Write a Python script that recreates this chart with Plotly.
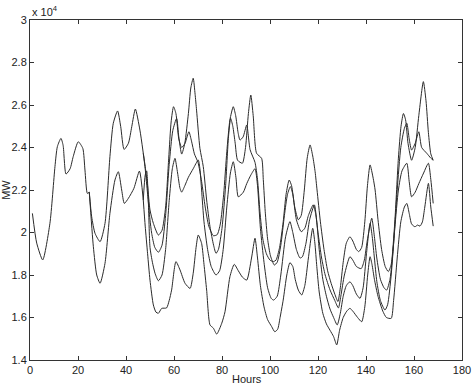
import plotly.graph_objects as go

# Load in MW x 10^4, hours on x
# Stage 1 (common to all scenarios)
s1_x = [1, 2.8, 5.3, 8.3, 10.4, 11.4, 12.9, 13.8, 15, 16.7, 18, 20.1, 22, 22.9, 23.9, 24.7]
s1_y = [2.09, 1.95, 1.871, 2.043, 2.31, 2.404, 2.443, 2.41, 2.275, 2.30, 2.357, 2.427, 2.396, 2.294, 2.184, 2.19]

# Stage 2 branches
hi_x = [25.7, 27.1, 29.2, 31.25, 33.3, 34.7, 36.5, 37.8, 39.2, 41, 42.4, 43.9, 45.8, 47.2]
hi_y = [2.074, 1.996, 1.957, 2.043, 2.357, 2.514, 2.572, 2.498, 2.391, 2.42, 2.498, 2.581, 2.482, 2.373]
lo_x = [26.4, 27.8, 29.2, 31.25, 33.3, 35.4, 36.8, 38.2, 39.3, 41, 43.3, 45.6, 47.2]
lo_y = [1.933, 1.80, 1.761, 1.855, 2.09, 2.247, 2.286, 2.20, 2.137, 2.161, 2.208, 2.289, 2.153]

# Stage 3 branches
l1_x = [48, 49, 50, 51.4, 53.5, 55, 56.5, 57.8, 58.8, 59.8, 60.8, 62, 63.2, 64.6, 66.2, 67.3, 68.5, 70, 71.5, 73, 74.5, 76.4, 78,
        79.3, 80.7, 82, 83.3, 84.7, 85.7, 86.7, 87.5, 88.8, 90.3, 91.7, 93.75, 94.8, 95.8, 97, 98.5, 100, 101.4,
        102.5, 104, 105.5, 106.7, 108, 109, 110.3, 111.8, 113, 114.3, 115.5, 116.7, 117.8, 118.8, 119.6, 121, 122.5, 124, 125.5, 127, 128.3,
        129.3, 130.5, 131.8, 133.3, 134.5, 136, 137, 138.2, 139.5, 140.6, 141.7, 143, 143.8, 145, 146.5, 148, 149.3,
        150.5, 152, 153.5, 154.6, 155.6, 156.5, 157.5, 159, 160.5, 162, 163.9, 165, 166, 167, 168]
l1_y = [2.31, 2.22, 2.106, 2.043, 1.988, 2.01, 2.12, 2.35, 2.52, 2.592, 2.56, 2.44, 2.40, 2.42, 2.474, 2.43, 2.37, 2.33, 2.24, 2.12, 2.03, 1.985, 1.99,
        2.04, 2.18, 2.38, 2.53, 2.592, 2.55, 2.47, 2.435, 2.45, 2.506, 2.39, 2.33, 2.25, 2.10, 1.97, 1.90, 1.87, 1.863,
        1.87, 1.93, 2.05, 2.18, 2.247, 2.22, 2.12, 2.06, 2.08, 2.20, 2.35, 2.412, 2.36, 2.286, 2.20, 2.05, 1.92, 1.82, 1.76, 1.71, 1.675,
        1.74, 1.86, 1.95, 1.98, 1.96, 1.92, 1.91, 1.93, 2.05, 2.22, 2.318, 2.255, 2.20, 2.06, 1.92, 1.84, 1.816,
        1.85, 2.05, 2.35, 2.50, 2.56, 2.53, 2.42, 2.34, 2.40, 2.55, 2.71, 2.62, 2.47, 2.37, 2.34]

l2_x = [48, 49, 50, 50.7, 52, 53.5, 55, 56.5, 58, 59.5, 61.1, 62, 63.2, 64.5, 66, 67, 68, 68.8, 69.4, 70.8, 72.2, 73.6, 75, 76.5, 77.5,
        78.5, 80, 81.5, 82.7, 83.6, 84.5, 85.5, 86.5, 88.5, 89.8, 91, 92, 93, 94.4, 96.5, 97.2, 98, 99, 100.2, 101.8,
        103, 104.5, 106, 107.3, 108.5, 109.5, 111, 113, 114.5, 116, 118, 119, 120, 121.5, 123, 125, 127, 128.5,
        129.5, 131, 133.3, 134.5, 136, 138, 139.3, 140.5, 142.4, 143.5, 144.5, 146, 147.5, 148.6,
        150, 151.5, 153, 154.5, 156, 157, 158, 159, 160.5, 162, 163.2, 165.3, 167, 168]
l2_y = [2.30, 2.18, 2.06, 1.996, 1.93, 1.907, 1.94, 2.08, 2.32, 2.48, 2.537, 2.45, 2.369, 2.42, 2.56, 2.68, 2.726, 2.65, 2.576, 2.396, 2.31, 2.153, 2.027, 1.94, 1.902,
        1.92, 2.02, 2.22, 2.45, 2.537, 2.50, 2.42, 2.34, 2.326, 2.40, 2.56, 2.647, 2.55, 2.373, 2.349, 2.25, 2.10, 1.97, 1.89, 1.847,
        1.86, 1.94, 2.08, 2.18, 2.216, 2.18, 2.06, 2.004, 2.02, 2.08, 2.13, 2.09, 2.00, 1.88, 1.80, 1.73, 1.68, 1.645,
        1.70, 1.80, 1.886, 1.87, 1.84, 1.83, 1.87, 1.96, 2.067, 1.98, 1.88, 1.78, 1.74, 1.729,
        1.78, 1.95, 2.20, 2.40, 2.49, 2.514, 2.44, 2.388, 2.42, 2.474, 2.40, 2.373, 2.35, 2.34]

l3_x = [48, 48.6, 49.3, 50, 51, 52.1, 53.5, 55, 56.5, 58, 59.3, 60.4, 61.5, 62.5, 63.2, 64.5, 66, 68, 70.1, 70.8, 71.5, 72.5, 74, 75.5, 77.5,
        79, 80.5, 82, 83.5, 84.7, 85.8, 86.8, 88.9, 90.3, 92, 93.75, 94.8, 96, 97.5, 99, 100.5, 101.5,
        103, 104.5, 106.5, 108.3, 109.5, 111, 112.5, 113.5, 115, 116.5, 118.5, 119.5, 120.5, 122, 123.5, 125, 126.5, 128,
        129.3, 130.5, 131.8, 133.3, 134.5, 136, 137.5, 138.8, 140.2, 141.7, 142.6, 143.5, 144.5, 146, 147.9,
        149, 150.5, 152, 153.5, 155, 157, 158, 159, 160.5, 162, 164, 166, 167, 168]
l3_y = [2.27, 2.29, 2.15, 1.93, 1.86, 1.808, 1.773, 1.80, 1.92, 2.15, 2.30, 2.349, 2.28, 2.208, 2.19, 2.22, 2.26, 2.30, 2.341, 2.30, 2.20, 2.05, 1.92, 1.84, 1.80,
        1.82, 1.92, 2.12, 2.28, 2.333, 2.26, 2.168, 2.19, 2.23, 2.27, 2.30, 2.22, 2.02, 1.86, 1.74, 1.69, 1.682,
        1.70, 1.80, 1.98, 2.051, 2.00, 1.92, 1.88, 1.886, 1.95, 2.06, 2.13, 2.05, 1.92, 1.78, 1.70, 1.64, 1.60, 1.565,
        1.62, 1.70, 1.75, 1.768, 1.75, 1.71, 1.69, 1.74, 1.90, 2.043, 1.98, 1.88, 1.77, 1.68, 1.635,
        1.66, 1.80, 2.02, 2.20, 2.29, 2.326, 2.24, 2.168, 2.19, 2.23, 2.28, 2.326, 2.25, 2.137]

l4_x = [48, 49, 50, 51.4, 52.5, 53.5, 54.9, 56.9, 58, 59, 60.8, 62.5, 64.6, 66.7, 68, 69.2, 70.1, 71.5, 72.5, 73.6, 75, 76.4, 77.8,
        79.9, 81.25, 83.3, 85.1, 86.8, 88.5, 90.3, 92.3, 93.75, 94.8, 96, 97.5, 99, 100.7, 102,
        103.2, 104.2, 105.5, 107, 108.3, 109.5, 110.5, 111.8, 113.2, 114.5, 116, 117.8, 118.7, 119.5, 120.5, 122, 123.5, 125, 126.5, 127.8,
        129, 130.5, 132, 133.3, 134.5, 136.5, 138.2, 139.5, 140.7, 141.7, 142.5, 143.5, 145, 147, 148.5, 150.5,
        151.5, 153, 154.5, 156, 157, 158, 159, 160.4, 161.5, 162.5, 163.5, 164.5, 166, 167, 168]
l4_y = [2.03, 1.90, 1.776, 1.659, 1.625, 1.62, 1.643, 1.645, 1.68, 1.729, 1.863, 1.824, 1.761, 1.737, 1.808, 1.93, 1.988, 1.949, 1.85, 1.729, 1.565, 1.55, 1.522,
        1.573, 1.627, 1.792, 1.85, 1.82, 1.79, 1.776, 1.88, 1.973, 1.88, 1.75, 1.65, 1.59, 1.557, 1.533,
        1.545, 1.60, 1.682, 1.80, 1.858, 1.84, 1.78, 1.729, 1.706, 1.75, 1.88, 2.02, 1.95, 1.84, 1.72, 1.62, 1.57, 1.54, 1.51, 1.471,
        1.54, 1.60, 1.63, 1.643, 1.63, 1.60, 1.58, 1.65, 1.80, 1.886, 1.85, 1.78, 1.70, 1.63, 1.60, 1.596,
        1.68, 1.88, 2.05, 2.12, 2.137, 2.09, 2.04, 2.027, 2.035, 2.03, 2.05, 2.12, 2.231, 2.12, 2.03]

x_ticks = [0, 20, 40, 60, 80, 100, 120, 140, 160, 180]
y_ticks = [1.4, 1.6, 1.8, 2.0, 2.2, 2.4, 2.6, 2.8, 3.0]
y_tick_text = ["1.4", "1.6", "1.8", "2", "2.2", "2.4", "2.6", "2.8", "3"]

LINE = dict(color="#2b2b2b", width=1, shape="spline", smoothing=0.6)

segments = [
    (s1_x, s1_y),
    ([s1_x[-1]] + hi_x, [s1_y[-1]] + hi_y),
    ([s1_x[-1]] + lo_x, [s1_y[-1]] + lo_y),
    ([hi_x[-1]] + l1_x, [hi_y[-1]] + l1_y),
    ([hi_x[-1]] + l2_x, [hi_y[-1]] + l2_y),
    ([lo_x[-1]] + l3_x, [lo_y[-1]] + l3_y),
    ([lo_x[-1]] + l4_x, [lo_y[-1]] + l4_y),
]

fig = go.Figure()
for sx, sy in segments:
    fig.add_trace(go.Scatter(x=sx, y=sy, mode="lines", line=LINE, hoverinfo="skip", showlegend=False))

axis_common = dict(
    showgrid=False, zeroline=False, showline=True, linecolor="#333333", linewidth=1,
    mirror="ticks", ticks="inside", ticklen=4, tickcolor="#333333", automargin=False,
    tickfont=dict(family="Liberation Sans, Arial, sans-serif", size=11, color="#222222"),
)

fig.update_layout(
    width=474, height=386,
    margin=dict(l=30, r=12, t=20, b=26, autoexpand=False),
    paper_bgcolor="white", plot_bgcolor="white",
    xaxis=dict(range=[0, 180], tickvals=x_ticks, **axis_common),
    yaxis=dict(range=[1.4, 3.0], tickvals=y_ticks, ticktext=y_tick_text, **axis_common),
    font=dict(family="Liberation Sans, Arial, sans-serif", size=11, color="#222222"),
    annotations=[
        dict(text="x 10<sup>4</sup>", xref="paper", yref="paper", x=0.0, y=1.0, xanchor="left", yanchor="bottom",
             showarrow=False, font=dict(size=11)),
        dict(text="MW", xref="paper", yref="paper", x=-0.056, y=0.5, textangle=-90, xanchor="center", yanchor="middle",
             showarrow=False, font=dict(size=11)),
        dict(text="Hours", xref="paper", yref="paper", x=0.502, y=-0.056, xanchor="center", yanchor="middle",
             showarrow=False, font=dict(size=11)),
    ],
)

fig.write_html(
    "out.html",
    config={"displayModeBar": False, "staticPlot": True},
    post_script="document.body.style.margin='0';document.body.style.overflow='hidden';",
)
